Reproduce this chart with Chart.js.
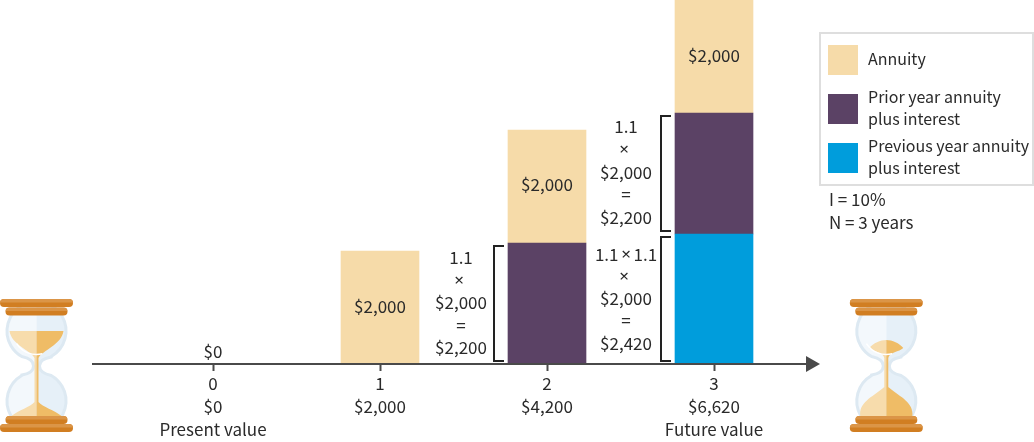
<!DOCTYPE html>
<html><head><meta charset="utf-8">
<style>html,body{margin:0;padding:0;background:#fff;overflow:hidden}canvas{display:block}</style>
<script src="https://cdn.jsdelivr.net/npm/chart.js@4"></script>
</head><body>
<canvas id="c" width="1034" height="442" style="width:1034px;height:442px"></canvas>
<script>
const categories = [['0','$0','Present value'],['1','$2,000',''],['2','$4,200',''],['3','$6,620','Future value']];
// Heights as drawn in the picture (the figure is not strictly to scale); printed amounts are in the labels.
const annuity = [null,2000,2000,2000];
const priorYear = [null,null,2142,2142];
const previousYear = [null,null,null,2300];
const barLabels = ['$0','$2,000','$2,000','$2,000'];
const legendNames = [['Annuity'],['Prior year annuity','plus interest'],['Previous year annuity','plus interest']];
const notes = ['I = 10%','N = 3 years'];
const calcOne = ['1.1','×','$2,000','=','$2,200'];
const calcTwo = ['1.1 × 1.1','×','$2,000','=','$2,420'];
const colors = {annuity:'#F6DBA9',prior:'#5B4265',previous:'#009DDC',axis:'#4A4A4A',text:'#2A2A2A'};
const FONT = '"Noto Sans CJK SC","Noto Sans",sans-serif';
const FS = 17;
const MAIN = `${FS}px ${FONT}`;
const TIMES = '17px "Noto Sans",sans-serif';

function lines(ctx,arr,x,ys){arr.forEach((t,i)=>ctx.fillText(t,x,ys[i]));}
function times(ctx,x,y){ctx.font=TIMES;ctx.fillText('×',x,y);ctx.font=MAIN;}
function calc(ctx,arr,x,ys){
  arr.forEach((t,i)=>{
    if(t==='×'){times(ctx,x-2,ys[i]);return;}
    if(t.includes(' × ')){
      const [a,b]=t.split(' × ');
      ctx.textAlign='right';ctx.fillText(a,x-7.5,ys[i]);
      ctx.textAlign='left';ctx.fillText(b,x+7.5,ys[i]);
      ctx.textAlign='center';times(ctx,x,ys[i]);return;
    }
    ctx.fillText(t,x,ys[i]);
  });
}
function bracket(ctx,x0,x1,y0,y1){
  ctx.strokeStyle='#222';ctx.lineWidth=2;ctx.beginPath();
  ctx.moveTo(x1,y0);ctx.lineTo(x0,y0);ctx.lineTo(x0,y1);ctx.lineTo(x1,y1);ctx.stroke();
}
function rr(ctx,x,y,w,h,c){ctx.fillStyle=c;ctx.beginPath();ctx.roundRect(x,y,w,h,h/2);ctx.fill();}
function cap(ctx,x,y,w){
  rr(ctx,x-w/2,y,w,8,'#D17E22');
  ctx.save();ctx.beginPath();ctx.rect(x-w/2,y,w,3.5);ctx.clip();rr(ctx,x-w/2,y,w,8,'#DB9547');ctx.restore();
}
function hourglass(ctx,cx,drawSand){
  const half=(side,c,fn)=>{ctx.save();ctx.beginPath();
    ctx.rect(side<0?cx-60:cx,280,60,160);ctx.clip();ctx.fillStyle=c;ctx.beginPath();fn();ctx.fill();ctx.restore();};
  const a=Math.asin(26/30);
  const glass=()=>{
    ctx.arc(cx,331,29.5,a,Math.PI-a,true);
    ctx.quadraticCurveTo(cx-3,359,cx-3,366);
    ctx.quadraticCurveTo(cx-3,373,cx-14.7,375);
    ctx.arc(cx,401,29.5,Math.PI+a,-a,true);
    ctx.quadraticCurveTo(cx+3,373,cx+3,366);
    ctx.quadraticCurveTo(cx+3,359,cx+14.7,357);
    ctx.closePath();
  };
  half(-1,'#F3F8FC',glass);half(1,'#E6F0F8',glass);
  ctx.strokeStyle='#DDE9F2';ctx.lineWidth=3;ctx.beginPath();glass();ctx.stroke();
  const sand=()=>{drawSand();ctx.rect(cx-2,352,4,66);};
  half(-1,'#F7DCAC',sand);
  half(1,'#EFBC66',sand);
  ctx.strokeStyle='#fff';ctx.lineWidth=1.5;ctx.beginPath();ctx.arc(cx,331,23.5,Math.PI*0.42,Math.PI*0.82);ctx.stroke();
  cap(ctx,cx,307.5,62);cap(ctx,cx,299,73);cap(ctx,cx,416,62);cap(ctx,cx,424,73);
}

const labelNudge=[0,-1,-2,-1];
const decor = {
  id:'decor',
  afterDatasetsDraw(chart){
    const ctx=chart.ctx,xs=chart.scales.x,ys=chart.scales.y;
    const base=ys.getPixelForValue(0);
    const bx=i=>xs.getPixelForValue(i);
    ctx.save();
    // axis with arrow
    ctx.strokeStyle=colors.axis;ctx.lineWidth=2;ctx.beginPath();ctx.moveTo(92,base);ctx.lineTo(808,base);ctx.stroke();
    ctx.fillStyle=colors.axis;ctx.beginPath();ctx.moveTo(806,base-8);ctx.lineTo(820,base);ctx.lineTo(806,base+8);ctx.closePath();ctx.fill();
    // bar labels
    ctx.font=MAIN;ctx.fillStyle=colors.text;ctx.textAlign='center';ctx.textBaseline='middle';
    ctx.fillText(barLabels[0],bx(0),352);
    [1,2,3].forEach(i=>{
      const lower=(priorYear[i]||0)+(previousYear[i]||0);
      const top=Math.max(ys.getPixelForValue(lower+annuity[i]),0);
      const bot=ys.getPixelForValue(lower);
      ctx.fillText(barLabels[i],bx(i),(top+bot)/2+labelNudge[i]);
    });
    // calculation columns
    calc(ctx,calcOne,bx(2)-86,[258,281,303,326,348]);
    calc(ctx,calcOne,bx(3)-88,[127,150,173,195,218]);
    calc(ctx,calcTwo,bx(3)-88,[255,277,299,321,344]);
    // brackets
    const pP=ys.getPixelForValue(priorYear[2]),pB=ys.getPixelForValue(previousYear[3]),pT=ys.getPixelForValue(previousYear[3]+priorYear[3]);
    bracket(ctx,bx(2)-53,bx(2)-43,pP+3,base-3);
    bracket(ctx,bx(3)-53,bx(3)-43,pT+3,pB-3);
    bracket(ctx,bx(3)-53,bx(3)-43,pB+3,base-3);
    // legend
    ctx.strokeStyle='#DEDEDE';ctx.lineWidth=2;ctx.strokeRect(820,33,213,152);
    const sw=[colors.annuity,colors.prior,colors.previous],sy=[45,94,143];
    const ty=[[59],[97,119],[146,168]];
    ctx.textAlign='left';
    ctx.font=`16px ${FONT}`;
    sw.forEach((c,i)=>{ctx.fillStyle=c;ctx.fillRect(828,sy[i],30,30);
      ctx.fillStyle=colors.text;lines(ctx,legendNames[i],868,ty[i]);});
    ctx.font=MAIN;
    lines(ctx,notes,829,[200,223]);
    // hourglasses
    const L=36.5,R=886.3;
    hourglass(ctx,L,()=>{
      ctx.moveTo(L-27,331);ctx.lineTo(L+27,331);ctx.bezierCurveTo(L+25,345,L+6,350,L+2,358);ctx.lineTo(L-2,358);ctx.bezierCurveTo(L-6,350,L-25,345,L-27,331);ctx.closePath();
      ctx.moveTo(L-25,416);ctx.bezierCurveTo(L-18,410,L-6,407,L-2,402);ctx.lineTo(L+2,402);ctx.bezierCurveTo(L+6,407,L+18,410,L+25,416);ctx.closePath();
    });
    hourglass(ctx,R,()=>{
      ctx.moveTo(R-17,348);ctx.bezierCurveTo(R-13,343,R-6,340,R,340);ctx.bezierCurveTo(R+6,340,R+13,343,R+17,348);ctx.bezierCurveTo(R+13,352,R+3,352,R+2,358);ctx.lineTo(R-2,358);ctx.bezierCurveTo(R-3,352,R-13,352,R-17,348);ctx.closePath();
      ctx.moveTo(R-26,416);ctx.bezierCurveTo(R-28,402,R-12,396,R-2,387);ctx.lineTo(R+2,387);ctx.bezierCurveTo(R+12,396,R+28,402,R+26,416);ctx.closePath();
    });
    ctx.restore();
  }
};

new Chart(document.getElementById('c'),{
  type:'bar',
  data:{labels:categories,datasets:[
    {label:'Previous year annuity plus interest',data:previousYear,backgroundColor:colors.previous,stack:'a'},
    {label:'Prior year annuity plus interest',data:priorYear,backgroundColor:colors.prior,stack:'a'},
    {label:'Annuity',data:annuity,backgroundColor:colors.annuity,stack:'a'}
  ]},
  options:{
    responsive:false,animation:false,devicePixelRatio:1,
    layout:{padding:{left:129.5,right:236.5,top:0,bottom:0}},
    datasets:{bar:{barThickness:78,borderWidth:0}},
    plugins:{legend:{display:false},tooltip:{enabled:false}},
    scales:{
      x:{stacked:true,
        afterFit(s){s.height=78;},
        border:{display:false},
        grid:{offset:false,drawOnChartArea:false,drawTicks:true,tickLength:7,tickWidth:2,tickColor:colors.axis},
        ticks:{autoSkip:false,maxRotation:0,minRotation:0,padding:1,color:colors.text,font:{family:FONT,size:FS,lineHeight:23/FS}}},
      y:{stacked:true,display:false,min:0,max:6442}
    }
  },
  plugins:[decor]
});
</script>
</body></html>
